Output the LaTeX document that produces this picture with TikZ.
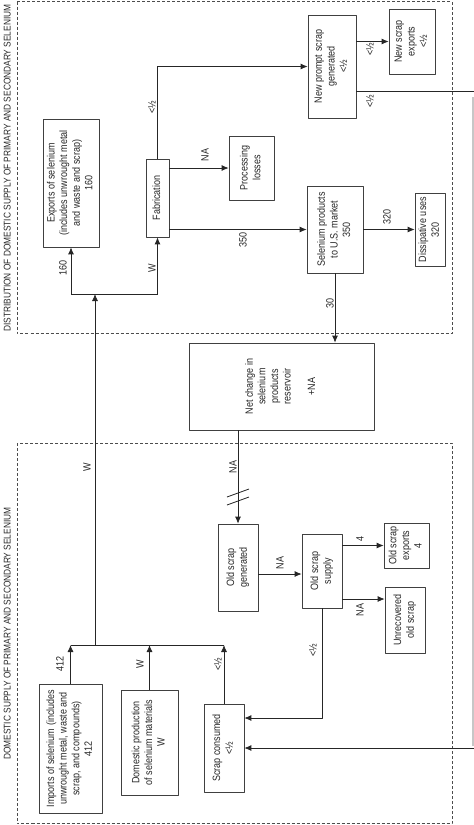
\documentclass[tikz,border=0pt]{standalone}
\usepackage{fontspec}
\setmainfont{Liberation Sans}[FakeStretch=0.85]
\usepackage{graphicx}
\usetikzlibrary{arrows.meta}
\newcommand{\vtext}[1]{\rotatebox{90}{\begin{tabular}{@{}c@{}}#1\end{tabular}}}
\tikzset{
  box/.style={draw=black!75, line width=0.7pt, inner sep=0pt, text=black!85},
  lbl/.style={rotate=90, inner sep=0pt, text=black!85},
  flow/.style={draw=black!85, line width=0.8pt, -{Latex[length=7pt,width=6pt]}},
  link/.style={draw=black!85, line width=0.8pt},
  region/.style={draw=black!70, line width=0.8pt, dash pattern=on 3pt off 2pt},
  sidetitle/.style={rotate=90, anchor=base west, inner sep=0pt, text=black!85, font=\fontsize{9.8}{11}\selectfont},
}
\begin{document}
\begin{tikzpicture}[x=1pt,y=-1pt,line join=round,font=\fontsize{10.6}{12.6}\selectfont]
\useasboundingbox (0,0) rectangle (474,825);

% the two regions
\draw[region] (17,1.5) rectangle (452,333);
\draw[region] (17,443) rectangle (452,823.5);
\node[sidetitle] (distT) at (10.5,332) {DISTRIBUTION OF DOMESTIC SUPPLY OF PRIMARY AND SECONDARY SELENIUM};
\node[sidetitle] (suppT) at (10.5,760) {DOMESTIC SUPPLY OF PRIMARY AND SECONDARY SELENIUM};

% distribution
\node[box, minimum width=56pt, minimum height=128pt] (exports) at (71,183) {\vtext{Exports of selenium\\(includes unwrought metal\\and waste and scrap)\\160}};
\node[box, minimum width=23pt, minimum height=78pt] (fab) at (157.5,198) {\vtext{Fabrication}};
\node[box, minimum width=45pt, minimum height=64pt] (ploss) at (251.5,168) {\vtext{Processing\\losses}};
\node[box, minimum width=48pt, minimum height=103pt] (npsg) at (332,66.5) {\vtext{New prompt scrap\\generated\\<½}};
\node[box, minimum width=46pt, minimum height=65pt] (nsexp) at (412,41.5) {\vtext{New scrap\\exports\\<½}};
\node[box, minimum width=56pt, minimum height=87pt] (selprod) at (335,229.5) {\vtext{Selenium products\\to U.S. market\\350}};
\node[box, minimum width=30pt, minimum height=73pt] (dissip) at (430,229.5) {\vtext{Dissipative uses\\320}};

% reservoir
\node[box, minimum width=185pt, minimum height=87pt] (netchg) at (281.5,386.5) {\vtext{Net change in\\selenium\\products\\reservoir\\[12pt]+NA}};

% domestic supply
\node[box, minimum width=40pt, minimum height=87pt] (osgen) at (238,567.5) {\vtext{Old scrap\\generated}};
\node[box, minimum width=40pt, minimum height=74pt] (ossup) at (322,571) {\vtext{Old scrap\\supply}};
\node[box, minimum width=45pt, minimum height=45pt] (osexp) at (406.5,545.5) {\vtext{Old scrap\\exports\\4}};
\node[box, minimum width=40pt, minimum height=66pt] (unrec) at (405,620) {\vtext{Unrecovered\\old scrap}};
\node[box, minimum width=40pt, minimum height=88pt] (scrapc) at (224,748) {\vtext{Scrap consumed\\<½}};
\node[box, minimum width=63pt, minimum height=129pt] (imports) at (70.5,748.5) {\vtext{Imports of selenium (includes\\unwrought metal, waste and\\scrap, and compounds)\\412}};
\node[box, minimum width=57pt, minimum height=105pt] (domprod) at (149.5,742.5) {\vtext{Domestic production\\of selenium materials\\W}};

\coordinate (split) at (95,294);
\coordinate (merge) at (95,645);
\coordinate (rtop) at (478,91);

% flows
\draw[flow] (fab.north) |- (npsg.west);
\draw[flow] (fab.east |- ploss.west) -- (ploss.west);
\draw[flow] (fab.east |- selprod.west) -- (selprod.west);
\draw[flow] (npsg.east |- nsexp.west) -- (nsexp.west);
\draw[flow] (selprod.east) -- (dissip.west);
\draw[flow] (selprod.south) -- (selprod.south |- netchg.north);
\draw[flow] (osgen.north |- netchg.south) -- (osgen.north);
\draw[link] (227,497) -- (249,489);
\draw[link] (227,505) -- (249,497);
\coordinate (gs) at ([yshift=-6.5pt]osgen.east);
\draw[flow] (gs) -- (gs -| ossup.west);
\draw[flow] (ossup.east |- osexp.west) -- (osexp.west);
\coordinate (su) at ([yshift=-28pt]ossup.east);
\draw[flow] (su) -- (su -| unrec.west);
\coordinate (sc) at ([yshift=30pt]scrapc.east);
\draw[flow] (ossup.south) |- (sc);
\coordinate (pn) at ([yshift=-24.5pt]npsg.east);
\draw[flow] (pn) -- (pn -| rtop) |- (scrapc.east);
\draw[black!22, line width=1.5pt] (473.2,97) -- (473.2,746);

\draw[link] (exports.south |- split) -- (fab.south |- split);
\draw[flow] (exports.south |- split) -- (exports.south);
\draw[flow] (fab.south |- split) -- (fab.south);
\draw[flow] (merge) -- (split);
\draw[link] (imports.north |- merge) -- (scrapc.north |- merge);
\draw[flow] (imports.north) -- (imports.north |- merge);
\draw[flow] (domprod.north) -- (domprod.north |- merge);
\draw[flow] (scrapc.north) -- (scrapc.north |- merge);

% values
\node[lbl] (vA) at (152,107) {<½};
\node[lbl] (vB) at (205,155) {NA};
\node[lbl] (vC) at (243,240) {350};
\node[lbl] (vD) at (370,49) {<½};
\node[lbl] (vE) at (370,101) {<½};
\node[lbl] (vF) at (387,217) {320};
\node[lbl] (vG) at (63,268) {160};
\node[lbl] (vH) at (152,268) {W};
\node[lbl] (vI) at (87,467) {W};
\node[lbl] (vJ) at (330,303) {30};
\node[lbl] (vK) at (233,467) {NA};
\node[lbl] (vL) at (280,563) {NA};
\node[lbl] (vM) at (360,539) {4};
\node[lbl] (vN) at (360,610) {NA};
\node[lbl] (vO) at (313,650) {<½};
\node[lbl] (vP) at (60,664) {412};
\node[lbl] (vQ) at (140,664) {W};
\node[lbl] (vR) at (218,664) {<½};
\end{tikzpicture}
\end{document}
